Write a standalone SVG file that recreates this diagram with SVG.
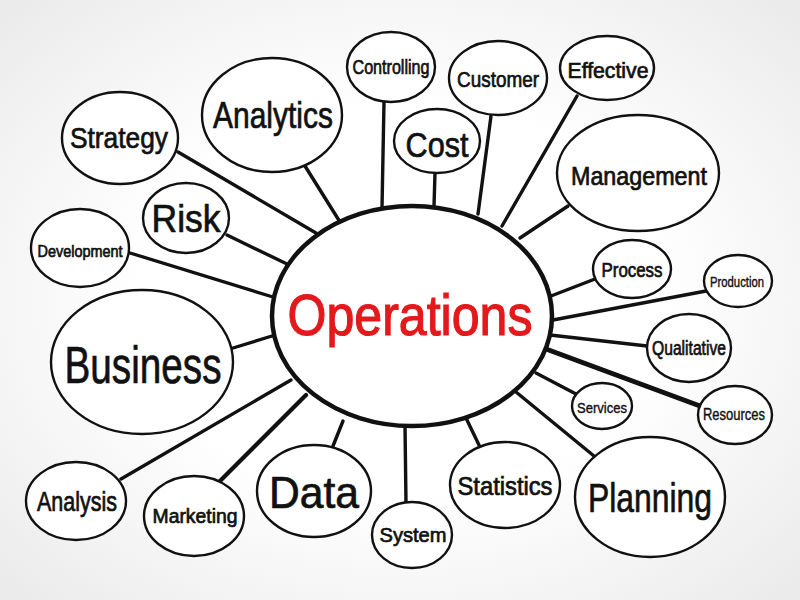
<svg xmlns="http://www.w3.org/2000/svg" width="800" height="600" viewBox="0 0 800 600">
<defs>
<radialGradient id="bg" cx="50%" cy="50%" r="72%">
<stop offset="0.45" stop-color="#ffffff"/>
<stop offset="1" stop-color="#e9e9e9"/>
</radialGradient>
</defs>
<style>
.n{fill:#ffffff;stroke:#111;stroke-width:2.4}
.c{fill:#ffffff;stroke:#111;stroke-width:4.5}
.t{font-family:"Liberation Sans",Arial,sans-serif;fill:#111;stroke:#111;stroke-width:0.7;text-anchor:middle}
.r{font-family:"Liberation Sans",Arial,sans-serif;fill:#e3191c;stroke:#e3191c;stroke-width:1.2;text-anchor:middle}
#connectors line{stroke:#111;stroke-width:3.4;stroke-linecap:round}
</style>
<rect width="800" height="600" fill="url(#bg)"/>
<g id="connectors">
<line x1="178" y1="152" x2="316" y2="233"/>
<line x1="305" y1="166" x2="340" y2="222"/>
<line x1="384" y1="102" x2="382" y2="208"/>
<line x1="227" y1="235" x2="287" y2="264"/>
<line x1="130" y1="253" x2="273" y2="297"/>
<line x1="435" y1="173" x2="434" y2="206"/>
<line x1="491" y1="116" x2="478" y2="214"/>
<line x1="577" y1="96" x2="502" y2="226"/>
<line x1="568" y1="206" x2="520" y2="238"/>
<line x1="595" y1="279" x2="551" y2="296"/>
<line x1="706" y1="291" x2="553" y2="320"/>
<line x1="550" y1="335" x2="647" y2="346"/>
<line x1="546" y1="349" x2="700" y2="406" style="stroke-width:5"/>
<line x1="536" y1="373" x2="576" y2="394"/>
<line x1="516" y1="392" x2="594" y2="456"/>
<line x1="466" y1="418" x2="479" y2="445"/>
<line x1="405" y1="425" x2="406" y2="504"/>
<line x1="343" y1="421" x2="333" y2="446"/>
<line x1="306" y1="395" x2="220" y2="481" style="stroke-width:4.2"/>
<line x1="291" y1="380" x2="121" y2="479"/>
<line x1="272" y1="336" x2="233" y2="348"/>
</g>
<g id="operations"><ellipse class="c" cx="412" cy="316" rx="140" ry="110"/><text class="r" x="410" y="335" font-size="58" textLength="245" lengthAdjust="spacingAndGlyphs">Operations</text></g>
<g id="strategy"><ellipse class="n" cx="120" cy="138" rx="58" ry="46"/><text class="t" x="119" y="148" font-size="30" textLength="98" lengthAdjust="spacingAndGlyphs">Strategy</text></g>
<g id="analytics"><ellipse class="n" cx="272" cy="115" rx="70" ry="57"/><text class="t" x="273" y="128" font-size="36" textLength="120" lengthAdjust="spacingAndGlyphs">Analytics</text></g>
<g id="controlling"><ellipse class="n" cx="391" cy="67" rx="44" ry="35"/><text class="t" x="391" y="74" font-size="20" textLength="77" lengthAdjust="spacingAndGlyphs">Controlling</text></g>
<g id="risk"><ellipse class="n" cx="186" cy="218" rx="43" ry="35"/><text class="t" x="186" y="232" font-size="38" textLength="69" lengthAdjust="spacingAndGlyphs">Risk</text></g>
<g id="development"><ellipse class="n" cx="80" cy="248" rx="49" ry="39"/><text class="t" x="80" y="257" font-size="17" textLength="85" lengthAdjust="spacingAndGlyphs">Development</text></g>
<g id="cost"><ellipse class="n" cx="437" cy="141" rx="43" ry="32"/><text class="t" x="437" y="157" font-size="35" textLength="63" lengthAdjust="spacingAndGlyphs">Cost</text></g>
<g id="customer"><ellipse class="n" cx="498" cy="78" rx="49" ry="37"/><text class="t" x="498" y="87" font-size="22" textLength="82" lengthAdjust="spacingAndGlyphs">Customer</text></g>
<g id="effective"><ellipse class="n" cx="607" cy="68" rx="47" ry="32"/><text class="t" x="608" y="78" font-size="22" textLength="81" lengthAdjust="spacingAndGlyphs">Effective</text></g>
<g id="management"><ellipse class="n" cx="638" cy="173" rx="81" ry="58"/><text class="t" x="639" y="185" font-size="25" textLength="136" lengthAdjust="spacingAndGlyphs">Management</text></g>
<g id="process"><ellipse class="n" cx="632" cy="269" rx="39" ry="29"/><text class="t" x="632" y="277" font-size="20" textLength="61" lengthAdjust="spacingAndGlyphs">Process</text></g>
<g id="production"><ellipse class="n" cx="738" cy="281" rx="34" ry="26"/><text class="t" x="737" y="287" font-size="14" textLength="54" lengthAdjust="spacingAndGlyphs" style="stroke-width:0.4">Production</text></g>
<g id="qualitative"><ellipse class="n" cx="689" cy="348" rx="42" ry="34"/><text class="t" x="689" y="355" font-size="20" textLength="74" lengthAdjust="spacingAndGlyphs">Qualitative</text></g>
<g id="services"><ellipse class="n" cx="602" cy="406" rx="30" ry="23"/><text class="t" x="602" y="413" font-size="15" textLength="50" lengthAdjust="spacingAndGlyphs" style="stroke-width:0.4">Services</text></g>
<g id="resources"><ellipse class="n" cx="735" cy="415" rx="37" ry="29"/><text class="t" x="734" y="420" font-size="16" textLength="62" lengthAdjust="spacingAndGlyphs" style="stroke-width:0.4">Resources</text></g>
<g id="planning"><ellipse class="n" cx="650" cy="497" rx="75" ry="60"/><text class="t" x="650" y="512" font-size="41" textLength="124" lengthAdjust="spacingAndGlyphs">Planning</text></g>
<g id="statistics"><ellipse class="n" cx="505" cy="485" rx="55" ry="43"/><text class="t" x="505" y="495" font-size="25" textLength="95" lengthAdjust="spacingAndGlyphs">Statistics</text></g>
<g id="system"><ellipse class="n" cx="412" cy="535" rx="40" ry="33"/><text class="t" x="413" y="542" font-size="21" textLength="67" lengthAdjust="spacingAndGlyphs">System</text></g>
<g id="data"><ellipse class="n" cx="314" cy="491" rx="57" ry="46"/><text class="t" x="314" y="508" font-size="45" textLength="90" lengthAdjust="spacingAndGlyphs">Data</text></g>
<g id="marketing"><ellipse class="n" cx="194" cy="516" rx="50" ry="40"/><text class="t" x="195" y="523" font-size="20" textLength="85" lengthAdjust="spacingAndGlyphs">Marketing</text></g>
<g id="analysis"><ellipse class="n" cx="76" cy="501" rx="50" ry="39"/><text class="t" x="77" y="511" font-size="27" textLength="80" lengthAdjust="spacingAndGlyphs">Analysis</text></g>
<g id="business"><ellipse class="n" cx="142" cy="362" rx="91" ry="72"/><text class="t" x="143" y="383" font-size="52" textLength="157" lengthAdjust="spacingAndGlyphs">Business</text></g>
</svg>
